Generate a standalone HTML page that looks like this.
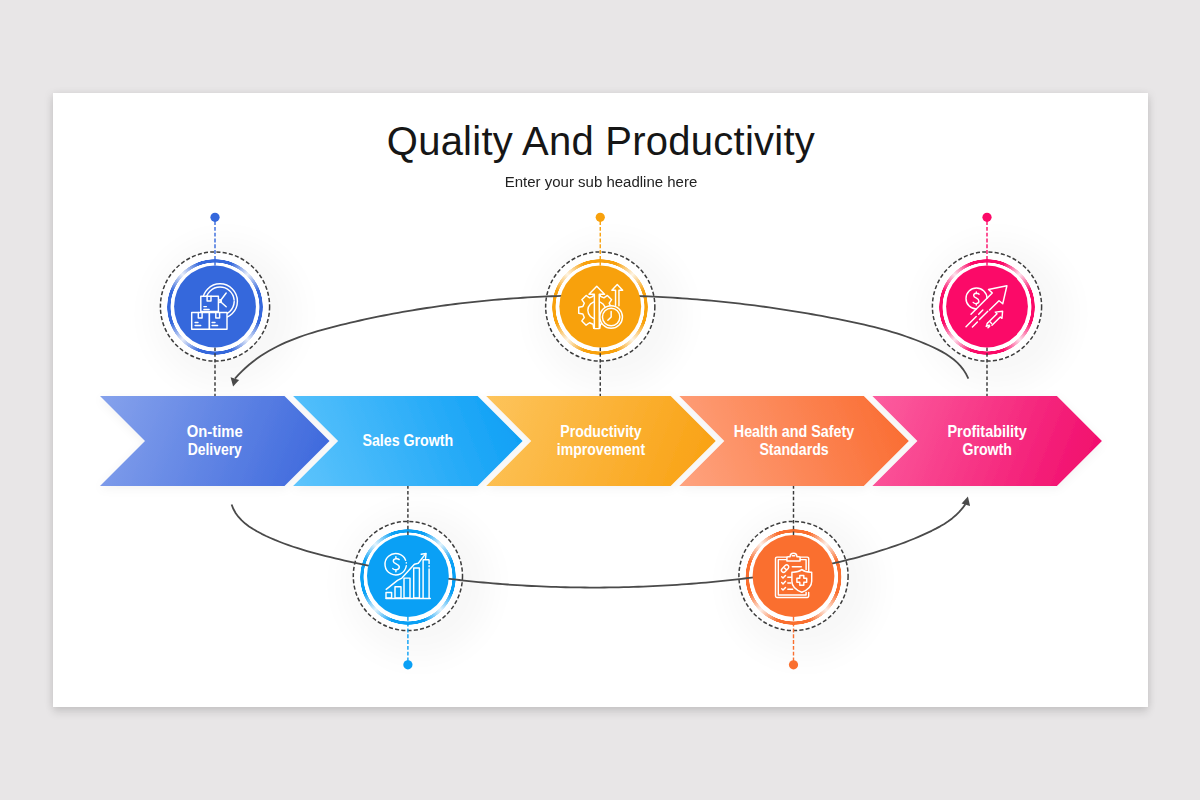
<!DOCTYPE html>
<html><head><meta charset="utf-8"><style>
html,body{margin:0;padding:0;}
body{width:1200px;height:800px;background:#e8e6e7;position:relative;overflow:hidden;font-family:"Liberation Sans",sans-serif;}
#card{position:absolute;left:53px;top:93px;width:1095px;height:614px;background:#fff;box-shadow:0 6px 8px rgba(0,0,0,0.10),-3px 0 8px rgba(0,0,0,0.05),3px 0 8px rgba(0,0,0,0.05);}
h1{position:absolute;left:0.9px;width:1200px;top:120.6px;margin:0;text-align:center;font-weight:normal;font-size:40px;line-height:40px;color:#161616;letter-spacing:0.24px;}
.sub{position:absolute;left:0.5px;width:1200px;top:174.4px;text-align:center;font-size:15.5px;line-height:15.5px;color:#222;transform:scaleX(0.967);}
svg{position:absolute;left:0;top:0;}
.cl{font-family:"Liberation Sans",sans-serif;font-weight:bold;font-size:16px;fill:#fff;text-anchor:middle;}
.ring{position:absolute;border-radius:50%;}
</style></head><body>
<div id="card"></div>
<h1>Quality And Productivity</h1>
<div class="sub">Enter your sub headline here</div>
<svg width="1200" height="800" viewBox="0 0 1200 800">
<defs>
<filter id="blur" x="-50%" y="-50%" width="200%" height="200%"><feGaussianBlur stdDeviation="16"/></filter>
<filter id="csh" x="-10%" y="-30%" width="120%" height="160%"><feDropShadow dx="0" dy="2.5" stdDeviation="5" flood-color="#000" flood-opacity="0.05"/></filter>
<linearGradient id="g0" gradientUnits="userSpaceOnUse" x1="100.0" y1="396" x2="329.5" y2="486"><stop offset="0" stop-color="#86a2ec"/><stop offset="1" stop-color="#3a66dc"/></linearGradient><linearGradient id="g1" gradientUnits="userSpaceOnUse" x1="293.1" y1="486" x2="522.6" y2="396"><stop offset="0" stop-color="#5ec4fc"/><stop offset="1" stop-color="#0a9ef5"/></linearGradient><linearGradient id="g2" gradientUnits="userSpaceOnUse" x1="486.2" y1="396" x2="715.7" y2="486"><stop offset="0" stop-color="#fdc45c"/><stop offset="1" stop-color="#f9a010"/></linearGradient><linearGradient id="g3" gradientUnits="userSpaceOnUse" x1="679.3" y1="486" x2="908.8" y2="396"><stop offset="0" stop-color="#fea37f"/><stop offset="1" stop-color="#fa6a2e"/></linearGradient><linearGradient id="g4" gradientUnits="userSpaceOnUse" x1="872.4" y1="396" x2="1101.9" y2="486"><stop offset="0" stop-color="#fc5e9f"/><stop offset="1" stop-color="#f1096a"/></linearGradient>
</defs>
<circle cx="225" cy="314.5" r="74" fill="#000" opacity="0.028" filter="url(#blur)"/><circle cx="417.9" cy="584" r="74" fill="#000" opacity="0.028" filter="url(#blur)"/><circle cx="610.25" cy="314.5" r="74" fill="#000" opacity="0.028" filter="url(#blur)"/><circle cx="803.5" cy="584" r="74" fill="#000" opacity="0.028" filter="url(#blur)"/><circle cx="997" cy="314.5" r="74" fill="#000" opacity="0.028" filter="url(#blur)"/><circle cx="215" cy="306.5" r="54.6" fill="#fff" stroke="#3d3d3d" stroke-width="1.5" stroke-dasharray="4.1 2.2"/><circle cx="407.9" cy="576" r="54.6" fill="#fff" stroke="#3d3d3d" stroke-width="1.5" stroke-dasharray="4.1 2.2"/><circle cx="600.25" cy="306.5" r="54.6" fill="#fff" stroke="#3d3d3d" stroke-width="1.5" stroke-dasharray="4.1 2.2"/><circle cx="793.5" cy="576" r="54.6" fill="#fff" stroke="#3d3d3d" stroke-width="1.5" stroke-dasharray="4.1 2.2"/><circle cx="987" cy="306.5" r="54.6" fill="#fff" stroke="#3d3d3d" stroke-width="1.5" stroke-dasharray="4.1 2.2"/><polygon points="100.00,396.00 284.50,396.00 329.50,441.00 284.50,486.00 100.00,486.00 145.00,441.00" fill="url(#g0)" filter="url(#csh)"/><text transform="translate(214.75,437.2) scale(0.924,1)" class="cl">On-time</text><text transform="translate(214.75,455.3) scale(0.87,1)" class="cl">Delivery</text><polygon points="293.10,396.00 477.60,396.00 522.60,441.00 477.60,486.00 293.10,486.00 338.10,441.00" fill="url(#g1)" filter="url(#csh)"/><text transform="translate(407.85,445.6) scale(0.89,1)" class="cl">Sales Growth</text><polygon points="486.20,396.00 670.70,396.00 715.70,441.00 670.70,486.00 486.20,486.00 531.20,441.00" fill="url(#g2)" filter="url(#csh)"/><text transform="translate(600.95,437.2) scale(0.879,1)" class="cl">Productivity</text><text transform="translate(600.95,455.3) scale(0.879,1)" class="cl">improvement</text><polygon points="679.30,396.00 863.80,396.00 908.80,441.00 863.80,486.00 679.30,486.00 724.30,441.00" fill="url(#g3)" filter="url(#csh)"/><text transform="translate(794.05,437.2) scale(0.899,1)" class="cl">Health and Safety</text><text transform="translate(794.05,455.3) scale(0.887,1)" class="cl">Standards</text><polygon points="872.40,396.00 1056.90,396.00 1101.90,441.00 1056.90,486.00 872.40,486.00 917.40,441.00" fill="url(#g4)" filter="url(#csh)"/><text transform="translate(987.15,437.2) scale(0.902,1)" class="cl">Profitability</text><text transform="translate(987.15,455.3) scale(0.883,1)" class="cl">Growth</text>
</svg>
<div class="ring" style="left:166.90px;top:259.20px;width:96.20px;height:96.20px;background:conic-gradient(#3568dc 0deg,#3568dc 20deg,rgba(53,104,220,0.12) 45deg,#3568dc 70deg,#3568dc 90deg,#3568dc 110deg,rgba(53,104,220,0.12) 135deg,#3568dc 160deg,#3568dc 180deg,#3568dc 200deg,rgba(53,104,220,0.12) 225deg,#3568dc 250deg,#3568dc 270deg,#3568dc 290deg,rgba(53,104,220,0.12) 315deg,#3568dc 340deg,#3568dc 360deg);-webkit-mask:radial-gradient(circle closest-side,transparent 44.20px,#000 44.70px,#000 47.60px,transparent 48.10px);mask:radial-gradient(circle closest-side,transparent 44.20px,#000 44.70px,#000 47.60px,transparent 48.10px)"></div><div class="ring" style="left:359.80px;top:528.70px;width:96.20px;height:96.20px;background:conic-gradient(#0aa0f5 0deg,#0aa0f5 20deg,rgba(10,160,245,0.12) 45deg,#0aa0f5 70deg,#0aa0f5 90deg,#0aa0f5 110deg,rgba(10,160,245,0.12) 135deg,#0aa0f5 160deg,#0aa0f5 180deg,#0aa0f5 200deg,rgba(10,160,245,0.12) 225deg,#0aa0f5 250deg,#0aa0f5 270deg,#0aa0f5 290deg,rgba(10,160,245,0.12) 315deg,#0aa0f5 340deg,#0aa0f5 360deg);-webkit-mask:radial-gradient(circle closest-side,transparent 44.20px,#000 44.70px,#000 47.60px,transparent 48.10px);mask:radial-gradient(circle closest-side,transparent 44.20px,#000 44.70px,#000 47.60px,transparent 48.10px)"></div><div class="ring" style="left:552.15px;top:259.20px;width:96.20px;height:96.20px;background:conic-gradient(#f8a10c 0deg,#f8a10c 20deg,rgba(248,161,12,0.12) 45deg,#f8a10c 70deg,#f8a10c 90deg,#f8a10c 110deg,rgba(248,161,12,0.12) 135deg,#f8a10c 160deg,#f8a10c 180deg,#f8a10c 200deg,rgba(248,161,12,0.12) 225deg,#f8a10c 250deg,#f8a10c 270deg,#f8a10c 290deg,rgba(248,161,12,0.12) 315deg,#f8a10c 340deg,#f8a10c 360deg);-webkit-mask:radial-gradient(circle closest-side,transparent 44.20px,#000 44.70px,#000 47.60px,transparent 48.10px);mask:radial-gradient(circle closest-side,transparent 44.20px,#000 44.70px,#000 47.60px,transparent 48.10px)"></div><div class="ring" style="left:745.40px;top:528.70px;width:96.20px;height:96.20px;background:conic-gradient(#fa6f2f 0deg,#fa6f2f 20deg,rgba(250,111,47,0.12) 45deg,#fa6f2f 70deg,#fa6f2f 90deg,#fa6f2f 110deg,rgba(250,111,47,0.12) 135deg,#fa6f2f 160deg,#fa6f2f 180deg,#fa6f2f 200deg,rgba(250,111,47,0.12) 225deg,#fa6f2f 250deg,#fa6f2f 270deg,#fa6f2f 290deg,rgba(250,111,47,0.12) 315deg,#fa6f2f 340deg,#fa6f2f 360deg);-webkit-mask:radial-gradient(circle closest-side,transparent 44.20px,#000 44.70px,#000 47.60px,transparent 48.10px);mask:radial-gradient(circle closest-side,transparent 44.20px,#000 44.70px,#000 47.60px,transparent 48.10px)"></div><div class="ring" style="left:938.90px;top:259.20px;width:96.20px;height:96.20px;background:conic-gradient(#fb0a68 0deg,#fb0a68 20deg,rgba(251,10,104,0.12) 45deg,#fb0a68 70deg,#fb0a68 90deg,#fb0a68 110deg,rgba(251,10,104,0.12) 135deg,#fb0a68 160deg,#fb0a68 180deg,#fb0a68 200deg,rgba(251,10,104,0.12) 225deg,#fb0a68 250deg,#fb0a68 270deg,#fb0a68 290deg,rgba(251,10,104,0.12) 315deg,#fb0a68 340deg,#fb0a68 360deg);-webkit-mask:radial-gradient(circle closest-side,transparent 44.20px,#000 44.70px,#000 47.60px,transparent 48.10px);mask:radial-gradient(circle closest-side,transparent 44.20px,#000 44.70px,#000 47.60px,transparent 48.10px)"></div>
<svg width="1200" height="800" viewBox="0 0 1200 800">
<path d="M234.96,378.72 L238.33,374.96 L241.80,371.39 L245.37,368.00 L249.04,364.78 L252.81,361.73 L256.66,358.83 L260.60,356.09 L264.62,353.49 L268.72,351.03 L272.88,348.70 L277.12,346.50 L281.42,344.41 L285.77,342.43 L290.18,340.56 L294.65,338.79 L299.15,337.10 L303.70,335.51 L308.29,333.98 L312.91,332.53 L317.56,331.15 L322.23,329.81 L326.92,328.53 L331.63,327.30 L336.35,326.10 L341.07,324.93 L345.80,323.78 L350.53,322.66 L355.27,321.57 L360.01,320.50 L364.75,319.45 L369.50,318.43 L374.25,317.43 L379.01,316.45 L383.76,315.50 L388.52,314.57 L393.28,313.67 L398.05,312.79 L402.82,311.93 L407.59,311.10 L412.37,310.29 L417.14,309.50 L421.92,308.74 L426.71,308.00 L431.49,307.28 L436.28,306.58 L441.07,305.90 L445.86,305.25 L450.66,304.62 L455.45,304.01 L460.25,303.43 L465.06,302.86 L469.86,302.32 L474.67,301.80 L479.47,301.30 L484.28,300.82 L489.09,300.36 L493.91,299.92 L498.72,299.51 L503.54,299.11 L508.36,298.74 L513.18,298.38 L518.00,298.05 L522.82,297.73 L527.65,297.44 L532.47,297.17 L537.30,296.91 L542.13,296.68 L546.96,296.46 L551.79,296.27 L556.62,296.09 L561.45,295.94 L566.29,295.80 L571.12,295.69 L575.96,295.59 L580.79,295.51 L585.63,295.45 L590.46,295.41 L595.30,295.39 L600.14,295.39 L604.98,295.41 L609.81,295.45 L614.65,295.50 L619.49,295.58 L624.33,295.68 L629.16,295.79 L634.00,295.93 L638.84,296.08 L643.68,296.25 L648.51,296.44 L653.35,296.65 L658.18,296.88 L663.02,297.13 L667.85,297.40 L672.68,297.69 L677.51,297.99 L682.34,298.32 L687.17,298.66 L692.00,299.03 L696.83,299.41 L701.65,299.81 L706.48,300.23 L711.30,300.67 L716.12,301.13 L720.94,301.61 L725.76,302.10 L730.57,302.62 L735.39,303.15 L740.20,303.70 L745.01,304.28 L749.81,304.87 L754.62,305.48 L759.42,306.10 L764.22,306.75 L769.02,307.42 L773.82,308.10 L778.61,308.80 L783.40,309.53 L788.19,310.27 L792.97,311.03 L797.75,311.80 L802.53,312.60 L807.31,313.41 L812.08,314.25 L816.85,315.10 L821.61,315.97 L826.37,316.86 L831.13,317.77 L835.89,318.70 L840.64,319.64 L845.39,320.61 L850.13,321.59 L854.86,322.61 L859.59,323.65 L864.31,324.73 L869.02,325.84 L873.72,326.99 L878.40,328.19 L883.07,329.43 L887.73,330.72 L892.37,332.07 L896.99,333.48 L901.59,334.95 L906.17,336.48 L910.73,338.08 L915.26,339.75 L919.77,341.50 L924.26,343.33 L928.72,345.24 L933.15,347.24 L937.52,349.35 L941.80,351.60 L945.95,354.03 L949.94,356.66 L953.72,359.53 L957.27,362.67 L960.55,366.11 L963.52,369.89 L966.14,374.03 L968.38,378.57" fill="none" stroke="#4a4a4a" stroke-width="1.8" stroke-linejoin="round"/><path d="M231.60,504.52 L233.41,509.06 L235.73,513.21 L238.51,516.98 L241.70,520.42 L245.22,523.57 L249.03,526.44 L253.08,529.09 L257.29,531.53 L261.62,533.82 L266.02,535.97 L270.45,538.01 L274.92,539.95 L279.42,541.78 L283.95,543.52 L288.52,545.17 L293.10,546.74 L297.72,548.23 L302.35,549.66 L307.01,551.03 L311.68,552.34 L316.36,553.61 L321.06,554.83 L325.76,556.02 L330.47,557.18 L335.19,558.32 L339.91,559.43 L344.64,560.52 L349.37,561.59 L354.11,562.64 L358.85,563.66 L363.59,564.66 L368.34,565.64 L373.09,566.59 L377.85,567.52 L382.61,568.43 L387.37,569.32 L392.14,570.18 L396.91,571.03 L401.68,571.85 L406.46,572.65 L411.24,573.43 L416.03,574.18 L420.82,574.91 L425.61,575.63 L430.40,576.32 L435.20,576.99 L440.00,577.63 L444.81,578.26 L449.61,578.87 L454.42,579.45 L459.23,580.01 L464.05,580.55 L468.86,581.08 L473.68,581.58 L478.50,582.06 L483.32,582.51 L488.15,582.95 L492.97,583.37 L497.80,583.77 L502.63,584.14 L507.47,584.50 L512.30,584.84 L517.13,585.15 L521.97,585.45 L526.81,585.73 L531.65,585.98 L536.49,586.22 L541.33,586.44 L546.17,586.63 L551.01,586.81 L555.86,586.97 L560.70,587.11 L565.55,587.23 L570.39,587.33 L575.24,587.41 L580.09,587.47 L584.93,587.52 L589.78,587.54 L594.63,587.55 L599.48,587.53 L604.32,587.50 L609.17,587.45 L614.02,587.38 L618.86,587.29 L623.71,587.19 L628.56,587.06 L633.40,586.92 L638.25,586.76 L643.09,586.58 L647.93,586.38 L652.78,586.16 L657.62,585.92 L662.46,585.67 L667.30,585.39 L672.13,585.10 L676.97,584.79 L681.81,584.46 L686.64,584.12 L691.47,583.75 L696.30,583.36 L701.13,582.96 L705.96,582.54 L710.79,582.10 L715.61,581.64 L720.43,581.16 L725.25,580.67 L730.07,580.15 L734.88,579.62 L739.70,579.06 L744.51,578.49 L749.31,577.90 L754.12,577.28 L758.92,576.64 L763.71,575.98 L768.51,575.29 L773.30,574.59 L778.08,573.85 L782.87,573.09 L787.64,572.31 L792.42,571.50 L797.19,570.66 L801.95,569.79 L806.71,568.90 L811.46,567.98 L816.21,567.02 L820.95,566.04 L825.69,565.03 L830.42,563.98 L835.15,562.91 L839.87,561.80 L844.58,560.65 L849.29,559.48 L853.99,558.27 L858.68,557.02 L863.37,555.74 L868.05,554.42 L872.72,553.07 L877.37,551.67 L882.02,550.23 L886.65,548.74 L891.26,547.20 L895.85,545.62 L900.42,543.98 L904.96,542.29 L909.48,540.53 L913.98,538.72 L918.44,536.84 L922.87,534.90 L927.26,532.90 L931.62,530.82 L935.92,528.65 L940.15,526.35 L944.28,523.91 L948.27,521.27 L952.12,518.41 L955.78,515.31 L959.24,511.91 L962.48,508.20 L965.46,504.15" fill="none" stroke="#4a4a4a" stroke-width="1.8" stroke-linejoin="round"/><polygon points="233.1,386.6 230.6,377.3 239.1,380.1" fill="#4a4a4a"/><polygon points="967.9,496.6 961.6,503.6 970.1,506" fill="#4a4a4a"/><line x1="215" y1="265.6" x2="215" y2="217" stroke="#3568dc" stroke-width="1.4" stroke-dasharray="3.9 1.9"/><line x1="215" y1="347.4" x2="215" y2="396" stroke="#3a3a3a" stroke-width="1.45" stroke-dasharray="3.5 2.3"/><circle cx="215" cy="217.3" r="4.6" fill="#3568dc"/><line x1="407.9" y1="616.9" x2="407.9" y2="665" stroke="#0aa0f5" stroke-width="1.4" stroke-dasharray="3.9 1.9"/><line x1="407.9" y1="535.1" x2="407.9" y2="486" stroke="#3a3a3a" stroke-width="1.45" stroke-dasharray="3.5 2.3"/><circle cx="407.9" cy="664.8" r="4.6" fill="#0aa0f5"/><line x1="600.25" y1="265.6" x2="600.25" y2="217" stroke="#f8a10c" stroke-width="1.4" stroke-dasharray="3.9 1.9"/><line x1="600.25" y1="347.4" x2="600.25" y2="396" stroke="#3a3a3a" stroke-width="1.45" stroke-dasharray="3.5 2.3"/><circle cx="600.25" cy="217.3" r="4.6" fill="#f8a10c"/><line x1="793.5" y1="616.9" x2="793.5" y2="665" stroke="#fa6f2f" stroke-width="1.4" stroke-dasharray="3.9 1.9"/><line x1="793.5" y1="535.1" x2="793.5" y2="486" stroke="#3a3a3a" stroke-width="1.45" stroke-dasharray="3.5 2.3"/><circle cx="793.5" cy="664.8" r="4.6" fill="#fa6f2f"/><line x1="987" y1="265.6" x2="987" y2="217" stroke="#fb0a68" stroke-width="1.4" stroke-dasharray="3.9 1.9"/><line x1="987" y1="347.4" x2="987" y2="396" stroke="#3a3a3a" stroke-width="1.45" stroke-dasharray="3.5 2.3"/><circle cx="987" cy="217.3" r="4.6" fill="#fb0a68"/><circle cx="215" cy="306.5" r="40.9" fill="#3568dc"/><circle cx="407.9" cy="576" r="40.9" fill="#0aa0f5"/><circle cx="600.25" cy="306.5" r="40.9" fill="#f8a10c"/><circle cx="793.5" cy="576" r="40.9" fill="#fa6f2f"/><circle cx="987" cy="306.5" r="40.9" fill="#fb0a68"/><g transform="translate(215,306.5)">
<g fill="none" stroke="#fff" stroke-width="1.45" stroke-linecap="round" stroke-linejoin="round">
<circle cx="5" cy="-5.3" r="17.4"/>
<circle cx="5" cy="-5.3" r="14.2" stroke-dasharray="0 0.74 86.46 2.74"/>
<path d="M5,-5.3 L11.2,-13.5 M5,-5.3 L11.2,0.3"/>
<circle cx="5" cy="-5.3" r="1.4"/>
</g>
<g stroke="#fff" stroke-width="1.45" stroke-linejoin="round" stroke-linecap="round" fill="#3568dc">
<rect x="-14.2" y="-10.2" width="17.6" height="15.2"/>
<rect x="-23.3" y="5.9" width="17.7" height="16.9"/>
<rect x="-5.6" y="5.9" width="17.6" height="16.9"/>
</g>
<g fill="none" stroke="#fff" stroke-width="1.45" stroke-linecap="round" stroke-linejoin="round">
<path d="M-7.9,-10.2 V-5.5 H-4.0 V-10.2"/>
<path d="M-16.7,5.9 V11.4 H-12.9 V5.9"/>
<path d="M0.8,5.9 V11.4 H4.6 V5.9"/>
<path d="M-11.1,0.1 H-8.6 M-11.1,2.9 H-5.9"/>
<path d="M-19.9,16.0 H-17.0 M-19.9,19.0 H-14.3"/>
<path d="M-2.9,16.0 H0.0 M-2.9,19.0 H2.6"/>
</g></g><g transform="translate(407.9,576)">
<g fill="none" stroke="#fff" stroke-width="1.45" stroke-linecap="round" stroke-linejoin="round">
<path d="M-1.6,-10.26 A10.7,10.7 0 1 1 -2.28,-15.76"/>
<path d="M-1.6,-13.24 L-1.6,-13.1"/>
<path d="M-8.7,-16.4 C-10.2,-17.8 -14.6,-17.6 -14.6,-14.8 C-14.6,-12 -8.6,-12.1 -8.6,-8.9 C-8.6,-5.8 -13.6,-5.6 -15.1,-7.4 M-12.0,-19.3 V-17.6 M-12.0,-6.1 V-4.3"/>
<path d="M-21.9,22.4 H22.4"/>
<rect x="-21.9" y="16.4" width="5.6" height="5.6"/>
<rect x="-12.9" y="10.7" width="6" height="11.3"/>
<rect x="-3.9" y="2.1" width="6" height="19.9"/>
<rect x="5.8" y="-8" width="5.7" height="30"/>
<path d="M15.2,21.9 V-15.8 A0.5,0.5 0 0 1 15.7,-16.3 H20.7 A0.5,0.5 0 0 1 21.2,-15.8 V-12.5 M21.2,-10.2 V-9.2 M21.2,-7 V22"/>
<path d="M-21.7,13.4 L-10.4,4.4 L-6,2.1 L6.5,-11.8 L10.4,-12.8 L17.6,-22.1"/>
<path d="M13.3,-21.8 L18.2,-22.5 L17.6,-17.6"/>
</g></g><g transform="translate(600.25,306.5)">
<g fill="none" stroke="#fff" stroke-width="1.45" stroke-linecap="round" stroke-linejoin="round">
<path d="M10.41,0.07 L14.55,0.78 L14.55,6.82 L10.41,7.53 L8.97,11.00 L11.40,14.43 L7.13,18.70 L3.70,16.27 L0.23,17.71 L-0.48,21.85 L-6.52,21.85 L-7.23,17.71 L-10.70,16.27 L-14.13,18.70 L-18.40,14.43 L-15.97,11.00 L-17.41,7.53 L-21.55,6.82 L-21.55,0.78 L-17.41,0.07 L-15.97,-3.40 L-18.40,-6.83 L-14.13,-11.10 L-10.70,-8.67 L-7.23,-10.11 L-6.52,-14.25 L-0.48,-14.25 L0.23,-10.11 L3.70,-8.67 L7.13,-11.10 L11.40,-6.83 L8.97,-3.40 Z"/>
<circle cx="-3.5" cy="3.8" r="8.9"/>
<path d="M-5.9,22.1 V-12.3 H-11.3 L-3.5,-20.3 L4.3,-12.3 H-1.0 V22.1 Z" fill="#f8a10c"/>
<circle cx="10.9" cy="10.5" r="11.3" fill="#f8a10c"/>
<circle cx="10.9" cy="10.5" r="8.7"/>
<path d="M10.9,4.9 V10.5 L7.6,13.8"/>
<path d="M15.3,-1.2 V-16.2 H11.6 L17,-21.9 L22.4,-16.2 H18.7 V-0.8"/>
</g></g><g transform="translate(793.5,576)">
<g fill="none" stroke="#fff" stroke-width="1.45" stroke-linecap="round" stroke-linejoin="round">
<path d="M-6.6,-18.9 H-16.6 A1.4,1.4 0 0 0 -18,-17.5 V20.1 A1.4,1.4 0 0 0 -16.6,21.5 H13.8 A1.4,1.4 0 0 0 15.2,20.1 V16.5"/>
<path d="M6.6,-18.9 H13.8 A1.4,1.4 0 0 1 15.2,-17.5 V-3.5"/>
<path d="M-7,-16.4 H-15.2 V18.9 H12.6 V16.4"/>
<path d="M6.7,-16.4 H12.6 V-6.5"/>
<path d="M-6.6,-15 V-18.3 A1,1 0 0 1 -5.6,-19.3 H-3.4 A3.4,3.4 0 0 1 3.4,-19.3 H5.6 A1,1 0 0 1 6.6,-18.3 V-15 Z"/>
<path d="M-1.3,-20.2 H1.3"/>
<path d="M-8.475,-4.355 L-5.355,-7.475 A2.1,2.1 0 0 0 -8.325,-10.445 L-11.445,-7.325 A2.1,2.1 0 0 0 -8.475,-4.355 Z M-6.915,-5.915 L-9.885,-8.885"/>
<path d="M-1.2,-9.3 H7.8"/>
<path d="M-11.8,0.8 L-10.5,2.1 L-8,-0.5 M-5.7,1.2 H-2"/>
<path d="M-11.8,6.6 L-10.5,7.9 L-8,5.3 M-5.7,7 H-2.5"/>
<path d="M-11.8,12.8 L-10.5,14.1 L-8,11.5 M-5.7,13.3 H-0.8"/>
<path d="M8.3,-6.4 C5.7,-4.3 2.7,-3.6 -1.6,-3.8 V5.3 C-1.6,10.8 3.4,14.4 8.3,16.2 C13.2,14.4 18.2,10.8 18.2,5.3 V-3.8 C13.9,-3.6 10.9,-4.3 8.3,-6.4 Z" fill="#fa6f2f"/>
<path d="M6.3,-0.6 H10.3 V2.3 H13.2 V6.3 H10.3 V9.2 H6.3 V6.3 H3.4 V2.3 H6.3 Z"/>
</g></g><g transform="translate(987,306.5)">
<g fill="none" stroke="#fff" stroke-width="1.45" stroke-linecap="round" stroke-linejoin="round">
<path d="M0,-8.2 A10.5,10.5 0 1 0 -10.7,2.5"/>
<path d="M-7.9,-12.3 C-9.2,-13.9 -13.3,-13.7 -13.3,-11.1 C-13.3,-8.4 -8.1,-8.6 -8.1,-5.3 C-8.1,-2.4 -12.4,-2.3 -13.8,-4.1 M-10.7,-14.6 V-12.9 M-10.7,-2.4 V-1.4"/>
<path d="M-16,7.7 L5.25,-13.6 L1.5,-17 L19.9,-20.75 L15.75,-2.75 L12,-5.75 L2.5,3.6"/>
<path d="M-8.3,7.7 L-4.2,3.5 M-7.5,13.1 L0.8,4.75 M-21,20.2 L-10.8,10 M-14.6,20.6 L-9.6,15.4"/>
<path d="M0.4,16.8 L10,7.25 L8.3,5.6 L15.6,4.75 L15,11.8 L13.3,10.5 L5,18.8"/>
<path d="M0.4,16.8 L-0.8,19.9 L2.2,18.6 M2.7,19.6 L1,21.2 M3.2,15.5 L4.6,17"/>
</g></g>
</svg>
</body></html>
